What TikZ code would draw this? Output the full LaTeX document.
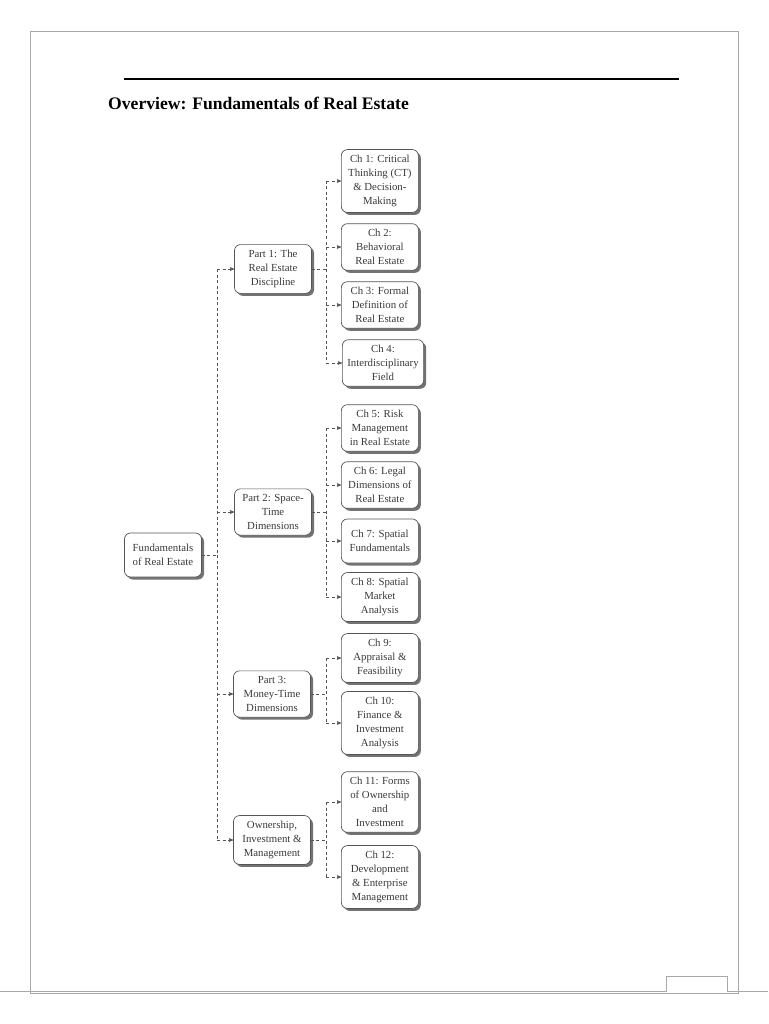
\documentclass[tikz,border=0pt]{standalone}
\usepackage{fontspec}
\setmainfont{Liberation Serif}
\usepackage{tikz}
\usetikzlibrary{arrows}
\usetikzlibrary{shadows}
\usetikzlibrary{calc}

\definecolor{boxline}{HTML}{555555}
\definecolor{boxtext}{HTML}{3A3A3A}
\definecolor{pagegray}{HTML}{A8A8A8}

\tikzset{
	unit/.style={draw=boxline, fill=white, rounded corners=6pt, line width=0.7pt,
		text=boxtext, align=center, minimum width=77pt, minimum height=44pt,
		inner xsep=5pt, inner ysep=5.5pt,
		font=\fontsize{10.8}{14}\selectfont,
		drop shadow={shadow xshift=2.5pt, shadow yshift=-2.5pt, fill=black!55, opacity=1}},
	chap/.style={unit, anchor=west},
	link/.style={draw=boxline, dashed, dash pattern=on 3pt off 2.5pt, line width=0.6pt},
	arr/.style={link, -stealth'}
}

\begin{document}
\begin{tikzpicture}[x=1pt, y=-1pt]
		\useasboundingbox (0,0) rectangle (768,1024);
		% page
		\draw[pagegray, line width=0.8pt] (30,31) rectangle (738,993);
		\draw[pagegray, line width=0.8pt] (0,991) -- (666,991) -- (666,976) -- (727,976) -- (727,991) -- (768,991);
		\draw[black, line width=1.8pt] (124,79) -- (679,79);
		\node[anchor=base west, inner sep=0pt, font=\fontsize{17.6}{20}\bfseries\selectfont] (title) at (108,110) {Overview: Fundamentals of Real Estate};

		% root and parts
		\node[unit] (root) at (163,555) {Fundamentals\\of Real Estate};
		\node[unit] (p1) at (273,269) {Part 1: The\\Real Estate\\Discipline};
		\node[unit] (p2) at (273,512) {Part 2: Space-\\Time\\Dimensions};
		\node[unit] (p3) at (272,694) {Part 3:\\Money-Time\\Dimensions};
		\node[unit] (p4) at (272,840) {Ownership,\\Investment \&\\Management};

		% chapters
		\node[chap] (c1) at (341,181) {Ch 1: Critical\\Thinking (CT)\\\& Decision-\\Making};
		\node[chap] (c2) at (341,247) {Ch 2:\\Behavioral\\Real Estate};
		\node[chap] (c3) at (341,305) {Ch 3: Formal\\Definition of\\Real Estate};
		\node[chap] (c4) at (342,363) {Ch 4:\\Interdisciplinary\\Field};
		\node[chap] (c5) at (341,428) {Ch 5: Risk\\Management\\in Real Estate};
		\node[chap] (c6) at (341,485) {Ch 6: Legal\\Dimensions of\\Real Estate};
		\node[chap] (c7) at (341,541) {Ch 7: Spatial\\Fundamentals};
		\node[chap] (c8) at (341,597) {Ch 8: Spatial\\Market\\Analysis};
		\node[chap] (c9) at (341,658) {Ch 9:\\Appraisal \&\\Feasibility};
		\node[chap] (c10) at (341,723) {Ch 10:\\Finance \&\\Investment\\Analysis};
		\node[chap] (c11) at (341,802) {Ch 11: Forms\\of Ownership\\and\\Investment};
		\node[chap] (c12) at (341,877) {Ch 12:\\Development\\\& Enterprise\\Management};

		% root to parts
		\coordinate (ta) at (217,0);
		\draw[link] (root.east) -- (root.east -| ta);
		\draw[link] (p1.west -| ta) -- (p4.west -| ta);
		\foreach \p in {p1,p2,p3,p4}
			\draw[arr] (\p.west -| ta) -- (\p.west);

		% parts to chapters
		\coordinate (tb) at (326,0);
		\draw[link] (p1.east) -- (p1.east -| tb);
		\draw[link] (c1.west -| tb) -- (c4.west -| tb);
		\foreach \c in {c1,c2,c3,c4}
			\draw[arr] (\c.west -| tb) -- (\c.west);
		\draw[link] (p2.east) -- (p2.east -| tb);
		\draw[link] (c5.west -| tb) -- (c8.west -| tb);
		\foreach \c in {c5,c6,c7,c8}
			\draw[arr] (\c.west -| tb) -- (\c.west);
		\draw[link] (p3.east) -- (p3.east -| tb);
		\draw[link] (c9.west -| tb) -- (c10.west -| tb);
		\foreach \c in {c9,c10}
			\draw[arr] (\c.west -| tb) -- (\c.west);
		\draw[link] (p4.east) -- (p4.east -| tb);
		\draw[link] (c11.west -| tb) -- (c12.west -| tb);
		\foreach \c in {c11,c12}
			\draw[arr] (\c.west -| tb) -- (\c.west);
	\end{tikzpicture}
\end{document}
